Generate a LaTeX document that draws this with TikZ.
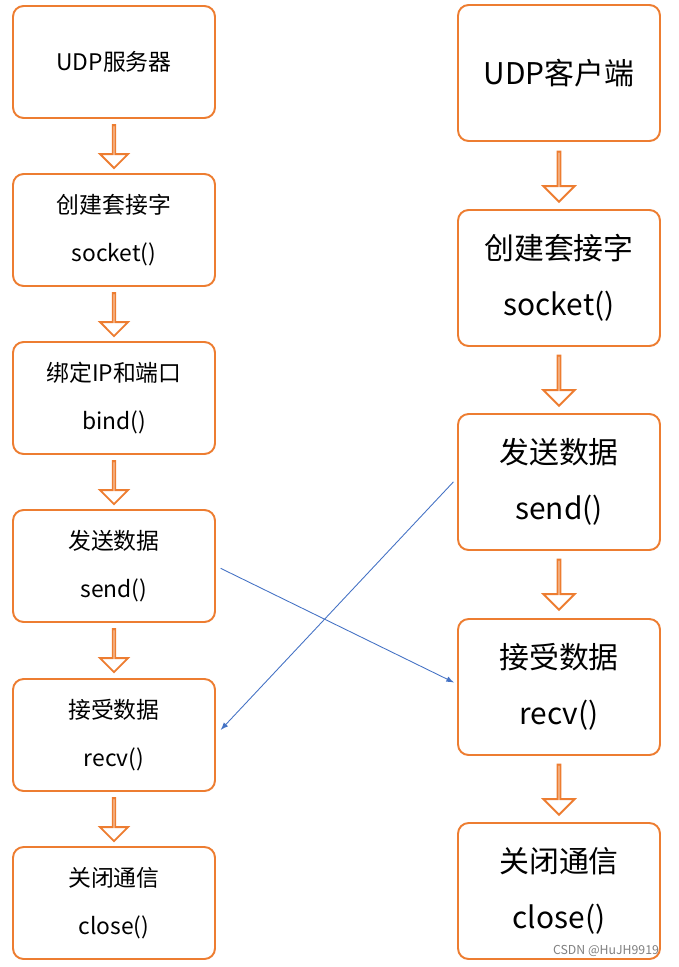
\documentclass[tikz,border=0pt]{standalone}
\usepackage{fontspec}
\setmainfont{Noto Sans CJK SC}
\usetikzlibrary{shapes.arrows}
\definecolor{boxOrange}{RGB}{237,125,49}
\definecolor{linkBlue}{RGB}{68,114,196}
\begin{document}
\begin{tikzpicture}[x=0.02cm, y=-0.02cm]
  \tikzset{step box/.style={draw=boxOrange, rounded corners=6pt, line width=1.1pt, fill=white,
      minimum width=4.04cm, align=center, inner sep=0pt},
    left box/.style={step box, minimum height=2.24cm, font=\fontsize{13}{27}\selectfont},
    right box/.style={step box, minimum height=2.72cm, font=\fontsize{17}{32}\selectfont},
    down arrow/.style={single arrow, draw=boxOrange, line width=1.1pt, fill=white, shape border rotate=270,
      inner sep=0pt, single arrow head extend=0.2cm},
    left arrow/.style={down arrow, minimum height=0.86cm, minimum width=0.56cm},
    right arrow/.style={down arrow, minimum height=1.0cm, minimum width=0.62cm},
    link/.style={draw=linkBlue, -latex, line width=0.5pt}}
  \useasboundingbox (0,0) rectangle (679,967);

  % server side
  \node[left box] (lstart) at (114,62) {UDP服务器};
  \node[left box] (lsock) at (114,230) {创建套接字\\socket()};
  \node[left box] (lbind) at (114,398) {绑定IP和端口\\bind()};
  \node[left box] (lsend) at (114,566) {发送数据\\send()};
  \node[left box] (lrecv) at (114,735) {接受数据\\recv()};
  \node[left box] (lclose) at (114,903) {关闭通信\\close()};
  \foreach \y/\n in {146/a1,314/a2,482/a3,650/a4,819/a5}
    \node[left arrow] (l\n) at (114,\y) {};

  % client side
  \node[right box] (rstart) at (559,73) {UDP客户端};
  \node[right box] (rsock) at (559,278) {创建套接字\\socket()};
  \node[right box] (rsend) at (559,482) {发送数据\\send()};
  \node[right box] (rrecv) at (559,687) {接受数据\\recv()};
  \node[right box] (rclose) at (559,891) {关闭通信\\close()};
  \foreach \y/\n in {176/a1,380/a2,584/a3,789/a4}
    \node[right arrow] (r\n) at (559,\y) {};

  \draw[link, shorten <=3pt, shorten >=2pt] (lsend.east) -- ([yshift=0.06cm]rrecv.west);
  \draw[link, shorten <=3pt, shorten >=4pt] ([yshift=0.08cm]rsend.west) -- (lrecv.east);

  \node[text=gray, font=\fontsize{7}{8}\selectfont] (mark) at (606,951) {CSDN @HuJH9919};
\end{tikzpicture}
\end{document}
